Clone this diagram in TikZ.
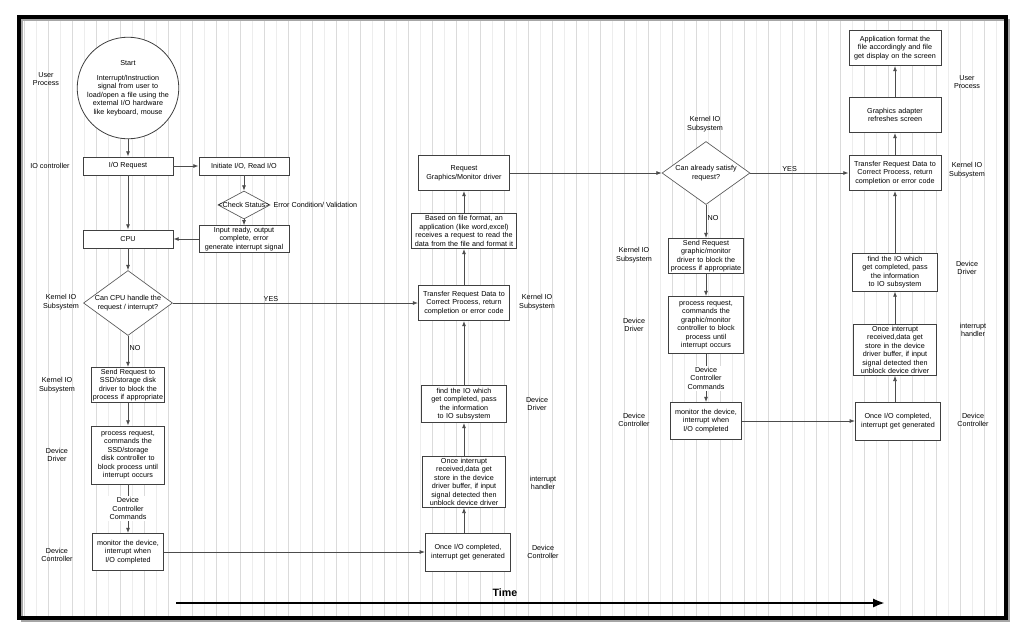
\documentclass[tikz,border=0pt]{standalone}
\usepackage{fontspec}
\setmainfont{Liberation Sans}
\usetikzlibrary{shapes.geometric,arrows.meta}
\lefthyphenmin=64
\hyphenpenalty=10000
\begin{document}
\begin{tikzpicture}[x=0.75pt,y=-0.75pt,
  font=\fontsize{5.4}{6.4}\selectfont,
  box/.style={draw=black!75,line width=0.6pt,fill=white,align=center,inner sep=1pt},
  dia/.style={draw=black!65,line width=0.5pt,fill=white,diamond,inner sep=0pt},
  lab/.style={align=center,inner sep=1pt},
  arr/.style={draw=black!70,line width=0.6pt,-{Latex[length=4pt,width=3pt]}},
  ln/.style={draw=black!70,line width=0.6pt}]
\useasboundingbox (0,0) rectangle (1024,633);
\fill[white] (0,0) rectangle (1024,633);
% grid
\draw[black!7,line width=0.3pt,step=12] (19,17) grid (1006,618);
\draw[black!14,line width=0.4pt,step=24] (19,17) grid (1006,618);
% frame with shadow
\draw[black!35,line width=2pt] (22,20) rectangle (1009,621);
\draw[black,line width=2.4pt] (19,17) rectangle (1006,618);

% ---------- left column
\node[draw=black!75,line width=0.6pt,circle,minimum size=72pt,fill=white,align=center,text width=64pt,inner sep=0pt] (start) at (128,88)
 {Start\\[5pt]Interrupt/Instruction signal from user to load/open a file using the external I/O hardware like keyboard, mouse};
\node[lab] at (46,79) {User\\Process};
\node[lab] at (50,166) {IO controller};
\node[box,minimum width=67.5pt,minimum height=13.5pt] (ioreq) at (128,166) {I/O Request};
\node[box,minimum width=67.5pt,minimum height=13.5pt] (init) at (244,166) {Initiate I/O, Read I/O};
\node[dia,minimum width=39pt,minimum height=21pt,aspect=1.86] (chk) at (244,205) {};
\node[lab] at (244,205) {<Check Status>};
\node[lab,anchor=west] at (272,205) {Error Condition/ Validation};
\node[box,minimum width=67.5pt,minimum height=18pt,text width=64pt] (input) at (244,239) {Input ready, output complete, error generate interrupt signal};
\node[box,minimum width=67.5pt,minimum height=13.5pt] (cpu) at (128,239) {CPU};
\node[dia,minimum width=66.75pt,minimum height=48.75pt,aspect=1.37] (cpud) at (128,303) {};
\node[lab] at (128,303) {Can CPU handle the\\request / interrupt?};
\node[lab] at (61,302) {Kernel IO\\Subsystem};
\node[box,minimum width=54.75pt,minimum height=25.5pt,text width=53pt] (send1) at (128,385) {Send Request to SSD/storage disk driver to block the process if appropriate};
\node[lab] at (57,385) {Kernel IO\\Subsystem};
\node[box,minimum width=54.75pt,minimum height=43.5pt,text width=53pt] (proc1) at (128,455) {process request, commands the SSD/storage disk controller to block process until interrupt occurs};
\node[lab] at (57,455) {Device\\Driver};
\node[box,minimum width=52.5pt,minimum height=27.75pt,text width=51pt] (mon1) at (128,552) {monitor the device, interrupt when I/O completed};
\node[lab] at (57,555) {Device\\Controller};

% ---------- middle column
\node[box,minimum width=68.25pt,minimum height=26.25pt,text width=66pt] (reqg) at (464,173) {Request Graphics/Monitor driver};
\node[box,minimum width=78pt,minimum height=26.25pt,text width=77pt] (based) at (464,231) {Based on file format, an application (like word,excel) receives a request to read the data from the file and format it};
\node[box,minimum width=68.25pt,minimum height=26.25pt,text width=66pt] (trans1) at (464,303) {Transfer Request Data to Correct Process, return completion or error code};
\node[lab] at (537,302) {Kernel IO\\Subsystem};
\node[box,minimum width=63pt,minimum height=27.75pt,text width=62pt] (find1) at (464,404) {find the IO which get completed, pass the information to IO subsystem};
\node[lab] at (537,404) {Device\\Driver};
\node[box,minimum width=61pt,minimum height=37.5pt,text width=60pt] (once1) at (464,482) {Once interrupt received,data get store in the device driver buffer, if input signal detected then unblock device driver};
\node[lab] at (543,483) {interrupt\\handler};
\node[box,minimum width=63.75pt,minimum height=28.5pt,text width=62pt] (onceio1) at (468,552) {Once I/O completed, interrupt get generated};
\node[lab] at (543,552) {Device\\Controller};

% ---------- right part
\node[dia,minimum width=66pt,minimum height=47.25pt,aspect=1.4] (d2) at (706,173) {};
\node[lab] at (706,173) {Can already satisfy\\request?};
\node[lab] at (705,124) {Kernel IO\\Subsystem};
\node[box,minimum width=54.75pt,minimum height=26.25pt,text width=54pt] (send2) at (706,256) {Send Request graphic/monitor driver to block the process if appropriate};
\node[lab] at (634,255) {Kernel IO\\Subsystem};
\node[box,minimum width=54.75pt,minimum height=42.75pt,text width=54pt] (proc2) at (706,325) {process request, commands the graphic/monitor controller to block process until interrupt occurs};
\node[lab] at (634,325) {Device\\Driver};
\node[box,minimum width=52.5pt,minimum height=27.75pt,text width=51pt] (mon2) at (706,421) {monitor the device, interrupt when I/O completed};
\node[lab] at (634,420) {Device\\Controller};

\node[box,minimum width=68.25pt,minimum height=26.25pt,text width=67pt] (app) at (895,48) {Application format the file accordingly and file get display on the screen};
\node[lab] at (967,82) {User\\Process};
\node[box,minimum width=68.25pt,minimum height=26.25pt,text width=67pt] (gfx) at (895,115) {Graphics adapter refreshes screen};
\node[box,minimum width=68.25pt,minimum height=26.25pt,text width=67pt] (trans2) at (895,173) {Transfer Request Data to Correct Process, return completion or error code};
\node[lab] at (967,170) {Kernel IO\\Subsystem};
\node[box,minimum width=63.75pt,minimum height=28.5pt,text width=62pt] (find2) at (895,272) {find the IO which get completed, pass the information to IO subsystem};
\node[lab] at (967,268) {Device\\Driver};
\node[box,minimum width=61.5pt,minimum height=36.75pt,text width=60pt] (once2) at (895,350) {Once interrupt received,data get store in the device driver buffer, if input signal detected then unblock device driver};
\node[lab] at (973,330) {interrupt\\handler};
\node[box,minimum width=63pt,minimum height=28.5pt,text width=62pt] (onceio2) at (898,421) {Once I/O completed, interrupt get generated};
\node[lab] at (973,420) {Device\\Controller};

% ---------- connectors
\draw[arr] (start.south) -- (ioreq.north);
\draw[arr] (ioreq.east) -- (init.west);
\draw[arr] (init.south) -- (chk.north);
\draw[arr] (chk.south) -- (input.north);
\draw[arr] (input.west) -- (cpu.east);
\draw[arr] (ioreq.south) -- (cpu.north);
\draw[arr] (cpu.south) -- (cpud.north);
\draw[arr] (cpud.east) -- node[lab,above,pos=0.4] {YES} (trans1.west);
\draw[arr] (cpud.south) -- node[lab,right,pos=0.4] {NO} (send1.north);
\draw[arr] (send1.south) -- (proc1.north);
\draw[arr] (proc1.south) -- node[lab,fill=white,pos=0.5] {Device\\Controller\\Commands} (mon1.north);
\draw[arr] (mon1.east) -- (onceio1.west);
\draw[arr] (onceio1.north -| once1.south) -- (once1.south);
\draw[arr] (once1.north) -- (find1.south);
\draw[arr] (find1.north) -- (trans1.south);
\draw[arr] (trans1.north) -- (based.south);
\draw[arr] (based.north) -- (reqg.south);
\draw[arr] (reqg.east) -- (d2.west);
\draw[arr] (d2.east) -- node[lab,above,pos=0.4] {YES} (trans2.west);
\draw[arr] (d2.south) -- node[lab,right,pos=0.4] {NO} (send2.north);
\draw[arr] (send2.south) -- (proc2.north);
\draw[arr] (proc2.south) -- node[lab,fill=white,pos=0.5] {Device\\Controller\\Commands} (mon2.north);
\draw[arr] (mon2.east) -- (onceio2.west);
\draw[arr] (onceio2.north -| once2.south) -- (once2.south);
\draw[arr] (once2.north) -- (find2.south);
\draw[arr] (find2.north) -- (trans2.south);
\draw[arr] (trans2.north) -- (gfx.south);
\draw[arr] (gfx.north) -- (app.south);

% time arrow
\coordinate (t0) at (176,603);
\coordinate (t1) at (885,603);
\draw[line width=2pt,-{Latex[length=9pt,width=7pt]}] (t0) -- (t1);
\node[font=\fontsize{8}{9}\selectfont\bfseries] at (505,593) {Time};
\end{tikzpicture}
\end{document}
